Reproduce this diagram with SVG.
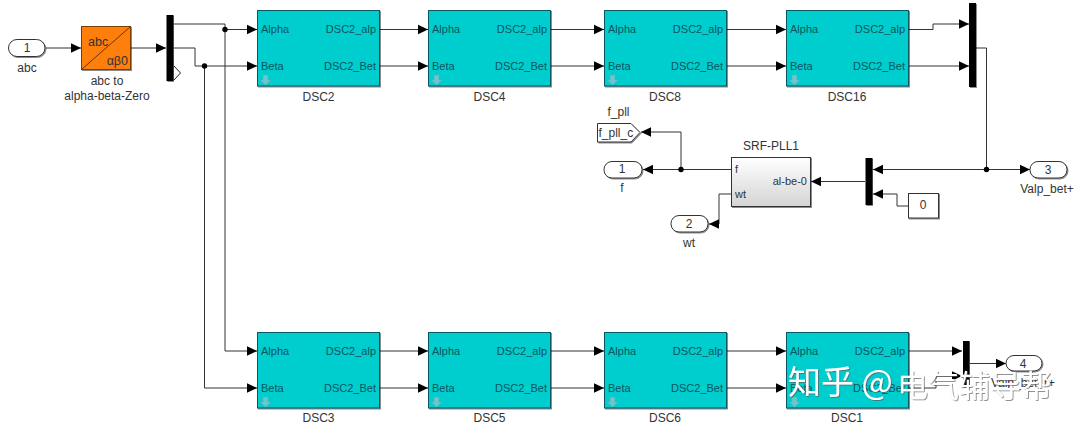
<svg xmlns="http://www.w3.org/2000/svg" width="1080" height="429" viewBox="0 0 1080 429">
<defs>
<marker id="ah" markerUnits="userSpaceOnUse" markerWidth="11" markerHeight="11" refX="10" refY="5.500" orient="auto"><path d="M0,0.800 L10,5.500 L0,10.200 Z" fill="#000"/></marker>
<filter id="sh" x="-5%" y="-5%" width="112%" height="112%"><feDropShadow dx="1" dy="1" stdDeviation="0.7" flood-color="#000" flood-opacity="0.45"/></filter>
<filter id="ws" x="-5%" y="-10%" width="110%" height="125%"><feDropShadow dx="0.8" dy="0.8" stdDeviation="0.6" flood-color="#555" flood-opacity="0.8"/></filter>
<linearGradient id="pll" x1="0" y1="0" x2="0" y2="1"><stop offset="0" stop-color="#fff"/><stop offset="1" stop-color="#d4d4d4"/></linearGradient>
</defs>
<style>
text{font-family:"Liberation Sans",Arial,sans-serif;font-size:12px;fill:#333}
.m{text-anchor:middle}.e{text-anchor:end}
.p{font-size:11px;fill:#0b5560}
.q{font-size:11px}
.c{fill:none;stroke:#333;stroke-width:1;marker-end:url(#ah)}
.n{fill:none;stroke:#333;stroke-width:1}
.b{fill:#00cdcd;stroke:#0b5560;stroke-width:1;filter:url(#sh)}
.k{fill:#000;filter:url(#sh)}
.o{fill:#fff;stroke:#333;stroke-width:1;filter:url(#sh)}
.d{fill:#6cc6d0;stroke:#4fb0b8;stroke-width:.5}
.w{font-family:"Noto Sans CJK SC",sans-serif;fill:#fff;filter:url(#ws)}
</style>
<g id="connectors">
<path class="c" d="M46,48H81"/>
<path class="c" d="M131,48H166"/>
<path class="n" d="M174,24H225V351"/>
<path class="c" d="M225,29.500H257"/>
<path class="c" d="M225,351H257"/>
<path class="n" d="M174,48H195V66"/>
<path class="c" d="M195,66H257"/>
<path class="n" d="M204.500,66V388"/>
<path class="c" d="M204.500,388H257"/>
<path class="c" d="M380,29.500H428"/><path class="c" d="M380,66H428"/>
<path class="c" d="M550,29.500H604"/><path class="c" d="M550,66H604"/>
<path class="c" d="M726,29.500H786"/><path class="c" d="M726,66H786"/>
<path class="c" d="M908,29.500H933V24H969"/><path class="c" d="M908,66H969"/>
<path class="n" d="M976,48H986.500V169.500"/>
<path class="c" d="M986.500,169.500H1030"/>
<path class="c" d="M986.500,169.500H873"/>
<path class="c" d="M908,206H897V194H873"/>
<path class="c" d="M865,181.500H811"/>
<path class="c" d="M732,169.500H643"/>
<path class="c" d="M681,169.500V132H641"/>
<path class="c" d="M732,194H719V224H709"/>
<path class="c" d="M380,351H428"/><path class="c" d="M380,388H428"/>
<path class="c" d="M550,351H604"/><path class="c" d="M550,388H604"/>
<path class="c" d="M726,351H786"/><path class="c" d="M726,388H786"/>
<path class="c" d="M908,351H962"/><path class="c" d="M908,388H936V376H962"/>
<path class="c" d="M970,363.500H1006"/>
<circle cx="225" cy="29.500" r="2.700"/><circle cx="204.500" cy="66" r="2.700"/>
<circle cx="986.500" cy="169.500" r="2.700"/><circle cx="681" cy="169.500" r="2.700"/>
</g>
<g id="in-abc"><rect class="o" x="8.500" y="39.500" width="36.500" height="17" rx="8.500"/><text class="m" x="27" y="52">1</text><text class="m" x="27" y="72">abc</text></g>
<g id="abc-to-alpha"><rect x="81.500" y="26.500" width="49" height="43" fill="#ff7f0e" stroke="#7a3d05" style="filter:url(#sh)"/><path d="M81.500,69.500L130.500,26.500" stroke="#6b3504" fill="none"/><text x="88" y="46" style="font-size:12.500px">abc</text><text class="e" x="128" y="65" style="font-size:12.500px">αβ0</text><text class="m" x="107" y="85">abc to</text><text class="m" x="107" y="100">alpha-beta-Zero</text></g>
<g id="demux"><rect class="k" x="166.500" y="15" width="7" height="66"/><path d="M174,66L180.500,73L174,80" fill="#fff" stroke="#222"/></g>
<g id="DSC2"><rect class="b" x="257.500" y="10.500" width="122" height="75.500"/><text class="p" x="261" y="33">Alpha</text><text class="p" x="261" y="70">Beta</text><text class="p e" x="376" y="33">DSC2_alp</text><text class="p e" x="376" y="70">DSC2_Bet</text><path class="d" d="M263,75h5v5h3l-5.500,5l-5.500,-5h3z"/><text class="m" x="318.500" y="101">DSC2</text></g>
<g id="DSC4"><rect class="b" x="428.500" y="10.500" width="122" height="75.500"/><text class="p" x="432" y="33">Alpha</text><text class="p" x="432" y="70">Beta</text><text class="p e" x="547" y="33">DSC2_alp</text><text class="p e" x="547" y="70">DSC2_Bet</text><path class="d" d="M434,75h5v5h3l-5.500,5l-5.500,-5h3z"/><text class="m" x="489.500" y="101">DSC4</text></g>
<g id="DSC8"><rect class="b" x="604.500" y="10.500" width="122" height="75.500"/><text class="p" x="608" y="33">Alpha</text><text class="p" x="608" y="70">Beta</text><text class="p e" x="723" y="33">DSC2_alp</text><text class="p e" x="723" y="70">DSC2_Bet</text><path class="d" d="M610,75h5v5h3l-5.500,5l-5.500,-5h3z"/><text class="m" x="665" y="101">DSC8</text></g>
<g id="DSC16"><rect class="b" x="786.500" y="10.500" width="122" height="75.500"/><text class="p" x="790" y="33">Alpha</text><text class="p" x="790" y="70">Beta</text><text class="p e" x="905" y="33">DSC2_alp</text><text class="p e" x="905" y="70">DSC2_Bet</text><path class="d" d="M792,75h5v5h3l-5.500,5l-5.500,-5h3z"/><text class="m" x="847" y="101">DSC16</text></g>
<g id="DSC3"><rect class="b" x="257.500" y="332.500" width="122" height="75.500"/><text class="p" x="261" y="355">Alpha</text><text class="p" x="261" y="392">Beta</text><text class="p e" x="376" y="355">DSC2_alp</text><text class="p e" x="376" y="392">DSC2_Bet</text><path class="d" d="M263,397h5v5h3l-5.500,5l-5.500,-5h3z"/><text class="m" x="318.500" y="422">DSC3</text></g>
<g id="DSC5"><rect class="b" x="428.500" y="332.500" width="122" height="75.500"/><text class="p" x="432" y="355">Alpha</text><text class="p" x="432" y="392">Beta</text><text class="p e" x="547" y="355">DSC2_alp</text><text class="p e" x="547" y="392">DSC2_Bet</text><path class="d" d="M434,397h5v5h3l-5.500,5l-5.500,-5h3z"/><text class="m" x="489.500" y="422">DSC5</text></g>
<g id="DSC6"><rect class="b" x="604.500" y="332.500" width="122" height="75.500"/><text class="p" x="608" y="355">Alpha</text><text class="p" x="608" y="392">Beta</text><text class="p e" x="723" y="355">DSC2_alp</text><text class="p e" x="723" y="392">DSC2_Bet</text><path class="d" d="M610,397h5v5h3l-5.500,5l-5.500,-5h3z"/><text class="m" x="665" y="422">DSC6</text></g>
<g id="DSC1"><rect class="b" x="786.500" y="332.500" width="122" height="75.500"/><text class="p" x="790" y="355">Alpha</text><text class="p" x="790" y="392">Beta</text><text class="p e" x="905" y="355">DSC2_alp</text><text class="p e" x="905" y="392">DSC2_Bet</text><path class="d" d="M792,397h5v5h3l-5.500,5l-5.500,-5h3z"/><text class="m" x="847" y="422">DSC1</text></g>
<g id="mux-top"><rect class="k" x="969" y="3" width="7" height="84"/></g>
<g id="mux-pll"><rect class="k" x="865.500" y="158" width="7" height="47"/></g>
<g id="mux-bottom"><rect class="k" x="963" y="341" width="6.500" height="46"/></g>
<g id="SRF-PLL1"><rect x="731.500" y="157.500" width="79" height="49" fill="url(#pll)" stroke="#333" style="filter:url(#sh)"/><text class="q" x="735" y="173">f</text><text class="q" x="735" y="198">wt</text><text class="q e" x="807" y="185">al-be-0</text><text class="m" x="771" y="150">SRF-PLL1</text></g>
<g id="goto-f_pll"><path class="o" d="M597.500,123.500H631L640,132.500L631,142H597.500Z"/><text x="598.500" y="137">f_pll_c</text><text class="m" x="618.500" y="116">f_pll</text></g>
<g id="out-f"><rect class="o" x="604" y="161.500" width="38" height="16.500" rx="8"/><text class="m" x="622" y="173">1</text><text class="m" x="622" y="192">f</text></g>
<g id="out-wt"><rect class="o" x="671" y="215.500" width="37" height="16.500" rx="8"/><text class="m" x="689" y="228">2</text><text class="m" x="689" y="247">wt</text></g>
<g id="const-0"><rect class="o" x="908.500" y="193.500" width="30" height="24.500"/><text class="m" x="923" y="209">0</text></g>
<g id="out-valp"><rect class="o" x="1030" y="161.500" width="37" height="16.500" rx="8"/><text class="m" x="1048" y="174">3</text><text class="m" x="1047" y="193">Valp_bet+</text></g>
<g id="out-valp-r"><rect class="o" x="1006" y="355.500" width="36" height="15.500" rx="8"/><text class="m" x="1023" y="368">4</text><text class="m" x="1023" y="387">Valp_bet_r+</text></g>
<g id="watermark"><text class="w" x="788" y="394" style="font-size:33px">知乎 @</text><text class="w" x="897" y="397" style="font-size:31px">电气辅导帮</text></g>
</svg>
